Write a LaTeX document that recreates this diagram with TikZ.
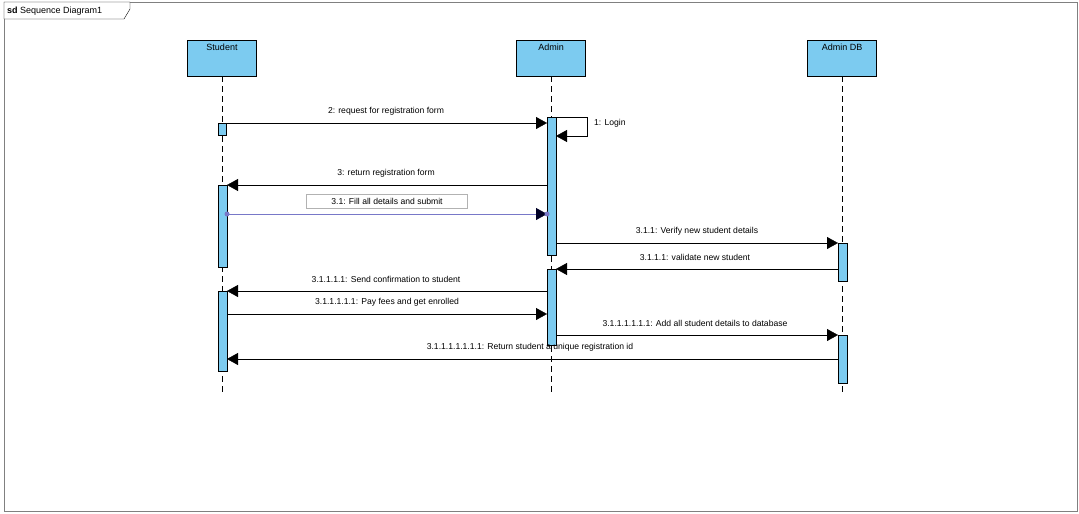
\documentclass[tikz,border=0pt]{standalone}
\usepackage{fontspec}
\setmainfont{Liberation Sans}
\usetikzlibrary{arrows.meta}
\definecolor{lb}{HTML}{7CCBF0}
\definecolor{msgp}{HTML}{7878C8}
\begin{document}
\begin{tikzpicture}[x=1pt,y=-1pt,
  obj/.style={draw,fill=lb,minimum width=69pt,minimum height=36pt,anchor=north,inner sep=0pt},
  otxt/.style={font=\fontsize{9}{10}\selectfont,anchor=north,inner sep=0pt},
  act/.style={draw,fill=lb},
  life/.style={dashed,dash pattern=on 6pt off 4pt},
  msg/.style={-{Triangle[length=11pt,width=12pt]}},
  lbl/.style={font=\fontsize{8.6}{10}\selectfont,inner sep=1pt}]
\useasboundingbox (0,0) rectangle (1079,514);
\draw[gray] (4,2) rectangle (1077,511);
\draw[fill=white] (4,2) -- (130,2) -- (130,9) -- (124,19) -- (4,19) -- cycle;
\node[anchor=west,font=\fontsize{9}{10}\selectfont,inner sep=0pt] (title) at (7,11) {\textbf{sd} Sequence Diagram1};
% objects
\node[obj] (st) at (222,40) {};
\node[obj] (ad) at (551,40) {};
\node[obj] (db) at (842,40) {};
\node[otxt] (stl) at (222,44) {Student};
\node[otxt] (adl) at (551,44) {Admin};
\node[otxt] (dbl) at (842,44) {Admin DB};
\coordinate (ste) at (222,392);
\coordinate (ade) at (551,392);
\coordinate (dbe) at (842,392);
\draw[life] (st.south) -- (ste);
\draw[life] (ad.south) -- (ade);
\draw[life] (db.south) -- (dbe);
% activations
\draw[act] (218,123) rectangle (226,135);
\draw[act] (218,185) rectangle (227,267);
\draw[act] (218,291) rectangle (227,371);
\draw[act] (547,117) rectangle (556,255);
\draw[act] (547,269) rectangle (556,345);
\draw[act] (838,243) rectangle (847,281);
\draw[act] (838,335) rectangle (847,383);
% coordinates
\coordinate (a1) at (226,123); \coordinate (b1) at (547,123);
\coordinate (l1) at (556,117); \coordinate (l2) at (587,117); \coordinate (l3) at (587,136); \coordinate (l4) at (556,136);
\coordinate (a3) at (547,185); \coordinate (b3) at (227,185);
\coordinate (a31) at (227,214); \coordinate (b31) at (547,214);
\coordinate (a311) at (556,243); \coordinate (b311) at (838,243);
\coordinate (a4) at (838,269); \coordinate (b4) at (556,269);
\coordinate (a5) at (547,291); \coordinate (b5) at (227,291);
\coordinate (a6) at (227,314); \coordinate (b6) at (547,314);
\coordinate (a7) at (556,335); \coordinate (b7) at (838,335);
\coordinate (a8) at (838,359); \coordinate (b8) at (227,359);
\draw[msg] (a1) -- (b1);
\node[lbl] (m2) at (386,111) {2: request for registration form};
\draw[msg] (l1) -- (l2) -- (l3) -- (l4);
\node[lbl,anchor=west] (m1) at (593,123) {1: Login};
\draw[msg] (a3) -- (b3);
\node[lbl] (m3) at (386,173) {3: return registration form};
\draw[msgp,-{Triangle[length=11pt,width=12pt,color=black!85!blue]}] (a31) -- (b31);
\fill[msgp] (a31) circle (2.5pt) (b31) circle (2.5pt);
\node[lbl,draw=gray!60,minimum width=161pt,minimum height=14pt] (m31) at (387,201) {3.1: Fill all details and submit};
\draw[msg] (a311) -- (b311);
\node[lbl] (m311) at (697,231) {3.1.1: Verify new student details};
\draw[msg] (a4) -- (b4);
\node[lbl] (m4) at (695,257) {3.1.1.1: validate new student};
\draw[msg] (a5) -- (b5);
\node[lbl] (m5) at (386,279) {3.1.1.1.1: Send confirmation to student};
\draw[msg] (a6) -- (b6);
\node[lbl] (m6) at (387,302) {3.1.1.1.1.1: Pay fees and get enrolled};
\draw[msg] (a7) -- (b7);
\node[lbl] (m7) at (695,323) {3.1.1.1.1.1.1: Add all student details to database};
\draw[msg] (a8) -- (b8);
\node[lbl] (m8) at (530,347) {3.1.1.1.1.1.1.1: Return student a unique registration id};
\end{tikzpicture}
\end{document}
